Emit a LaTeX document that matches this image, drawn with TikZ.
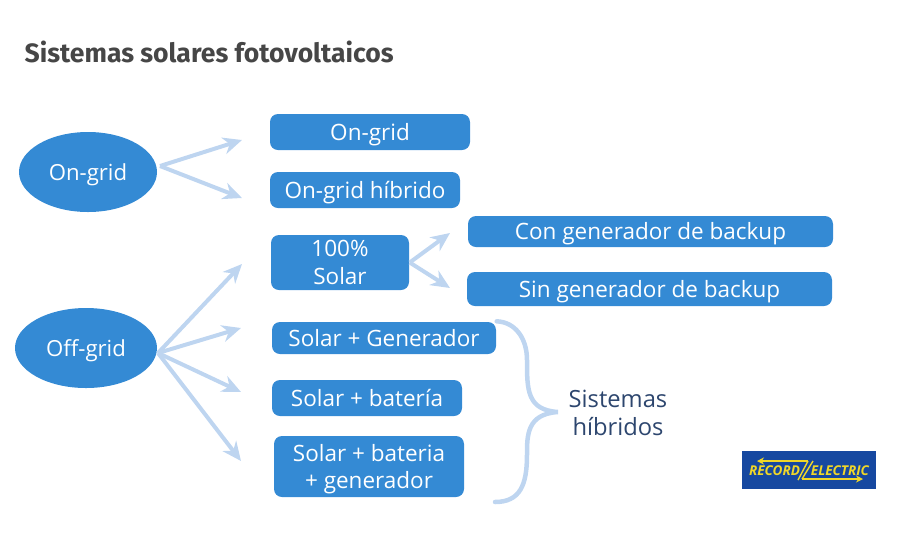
\documentclass[tikz,border=0pt]{standalone}
\usepackage{fontspec}
\setmainfont{Open Sans}
\newfontfamily\titlefont{Fira Sans}
\usepackage{xcolor}
\usetikzlibrary{shapes.geometric, arrows.meta, positioning, calc}
\definecolor{boxcolor}{RGB}{52, 138, 212}
\definecolor{arrowcolor}{RGB}{190, 213, 240}
\definecolor{labelcolor}{RGB}{45, 70, 110}
\definecolor{titlecolor}{RGB}{70, 70, 70}
\definecolor{logocolor}{RGB}{22, 72, 160}
\definecolor{logoyellow}{RGB}{240, 215, 40}

\begin{document}
\begin{tikzpicture}[
    oval/.style={ellipse, fill=boxcolor, text=white, inner sep=0pt, text height=1.6mm, text depth=0pt, font=\fontsize{6.3}{7.6}\selectfont},
    box/.style={fill=boxcolor, text=white, rounded corners=0.8mm, inner sep=0pt, align=center, font=\fontsize{6.4}{7.9}\selectfont},
    oneline/.style={box, text height=1.6mm, text depth=0pt},
    arrow/.style={-{Stealth[length=1.9mm, width=1.7mm]}, arrowcolor, line width=0.4mm},
    logotext/.style={text=logoyellow, font=\bfseries\itshape\fontsize{3.85}{4}\selectfont, inner sep=0pt},
    logoline/.style={logoyellow, line width=0.14mm}
]
    \useasboundingbox (0,0) rectangle (9,5.5);
    \node[anchor=west, inner sep=0pt, font=\titlefont\bfseries\fontsize{7.55}{8}\selectfont, text=titlecolor] (title) at (0.24,4.98) {Sistemas solares fotovoltaicos};

    \node[oval, minimum width=1.38cm, minimum height=0.80cm] (ongrid) at (0.88,3.78) {On-grid};
    \node[oval, minimum width=1.42cm, minimum height=0.80cm] (offgrid) at (0.86,2.02) {Off-grid};

    \node[oneline, minimum width=2.00cm, minimum height=0.36cm] (simple) at (3.70,4.18) {On-grid};
    \node[oneline, minimum width=1.90cm, minimum height=0.36cm] (hibrido) at (3.65,3.60) {On-grid híbrido};
    \node[box, minimum width=1.38cm, minimum height=0.55cm] (solar) at (3.40,2.875) {100\%\\Solar};
    \node[oneline, minimum width=3.65cm, minimum height=0.31cm] (con) at (6.505,3.185) {Con generador de backup};
    \node[oneline, minimum width=3.65cm, minimum height=0.34cm] (sin) at (6.495,2.61) {Sin generador de backup};
    \node[oneline, minimum width=2.24cm, minimum height=0.32cm] (gen) at (3.84,2.12) {Solar + Generador};
    \node[oneline, minimum width=1.90cm, minimum height=0.36cm] (bat) at (3.67,1.52) {Solar + batería};
    \node[box, text depth=0pt, minimum width=1.90cm, minimum height=0.61cm] (batgen) at (3.69,0.835) {Solar + bateria\\+ generador};

    \node[align=center, text=labelcolor, font=\fontsize{6.75}{8}\selectfont] (hibridos) at (6.18,1.37) {Sistemas\\híbridos};

    % arrow ends
    \coordinate (a1) at (1.60,3.84);
    \coordinate (b1) at (2.42,4.10);
    \coordinate (b2) at (2.42,3.52);
    \coordinate (a2) at (1.58,1.97);
    \coordinate (c1) at (2.42,2.86);
    \coordinate (c2) at (2.41,2.22);
    \coordinate (c3) at (2.41,1.58);
    \coordinate (c4) at (2.41,0.89);
    \coordinate (d1) at (4.50,3.17);
    \coordinate (d2) at (4.50,2.62);

    \draw[arrow] (a1) -- (b1);
    \draw[arrow] (a1) -- (b2);
    \draw[arrow] (a2) -- (c1);
    \draw[arrow] (a2) -- (c2);
    \draw[arrow] (a2) -- (c3);
    \draw[arrow] (a2) -- (c4);
    \draw[arrow] (solar.east) -- (d1);
    \draw[arrow] (solar.east) -- (d2);

    % brace
    \draw[arrowcolor, line width=0.45mm, line cap=round] (gen.north east)
        .. controls (5.15,2.28) and (5.27,2.12) .. (5.27,1.90)
        .. controls (5.27,1.60) and (5.27,1.40) .. (5.58,1.38)
        .. controls (5.27,1.36) and (5.27,1.15) .. (5.27,0.95)
        .. controls (5.27,0.65) and (5.20,0.48) .. (4.95,0.48);

    % logo
    \node[fill=logocolor, minimum width=1.34cm, minimum height=0.38cm, inner sep=0pt] (logo) at (8.09,0.80) {};
    \node[logotext] (record) at (7.745,0.79) {RECORD};
    \node[logotext] (electric) at (8.40,0.79) {ELECTRIC};
    \draw[logoline, -{Stealth[length=0.7mm, width=0.7mm]}] (8.08,0.89) -- (7.57,0.89);
    \draw[logoline, -{Stealth[length=0.7mm, width=0.7mm]}] (8.02,0.71) -- (8.63,0.71);
    \draw[logoline] (8.08,0.89) -- (7.98,0.70);
    \draw[logoline] (8.02,0.71) -- (8.13,0.89);
\end{tikzpicture}
\end{document}
